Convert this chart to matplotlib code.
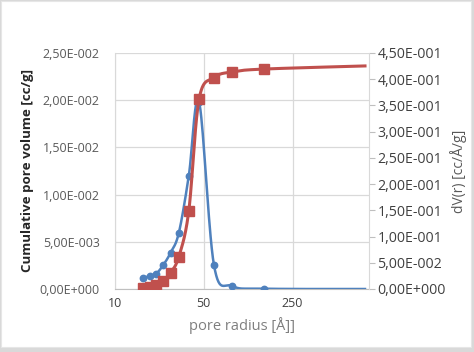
import numpy as np
import matplotlib
matplotlib.use('Agg')
import matplotlib.pyplot as plt
import matplotlib.patches as patches
from matplotlib.ticker import FixedLocator, FuncFormatter, NullLocator

plt.rcParams['font.family'] = ['Open Sans', 'DejaVu Sans']

# pore radius [A] (shared by both series)
radius = [16.7, 18.8, 21.0, 23.9, 27.4, 31.8, 38.1, 45.9, 60.2, 84.0, 149.0, 930.0]
# cumulative pore volume [cc/g] (left axis)
cum_vol = [0.00007, 0.00024, 0.00042, 0.00088, 0.00173, 0.00342, 0.00826,
           0.0201, 0.0224, 0.0230, 0.0233, 0.02363]
# dV(r) [cc/A/g] (right axis)
dv = [0.0204, 0.0254, 0.0286, 0.0452, 0.0692, 0.1068, 0.2155,
      0.357, 0.0452, 0.0057, 0.0006, 0.0]
n_marked = 11  # last point carries no marker

left_ticks = [0, 0.005, 0.010, 0.015, 0.020, 0.025]
right_ticks = [0, 0.05, 0.10, 0.15, 0.20, 0.25, 0.30, 0.35, 0.40, 0.45]
x_ticks = [10, 50, 250]

RED = '#C0504D'
BLUE = '#4F81BD'
GREY = '#595959'


def excel_fmt(v, pos=None):
    s = '%.2E' % v
    mant, exp = s.split('E')
    sign = exp[0]
    e = int(exp[1:])
    return mant.replace('.', ',') + 'E' + sign + '%03d' % e


def smooth(xs, ys, ymax, n=30):
    # excel style smoothed line, done in log-x / normalised-y space
    u = np.log(np.array(xs, float))
    v = np.array(ys, float) / ymax
    P = np.column_stack([u, v])
    out = []
    for i in range(len(P) - 1):
        p0 = P[i - 1] if i > 0 else P[i]
        p1 = P[i]
        p2 = P[i + 1]
        p3 = P[i + 2] if i + 2 < len(P) else P[i + 1]
        c1 = p1 + (p2 - p0) / 6.0
        c2 = p2 - (p3 - p1) / 6.0
        t = np.linspace(0, 1, n)[:, None]
        seg = ((1 - t) ** 3) * p1 + 3 * ((1 - t) ** 2) * t * c1 + 3 * (1 - t) * t ** 2 * c2 + t ** 3 * p2
        out.append(seg if i == 0 else seg[1:])
    out = np.vstack(out)
    return np.exp(out[:, 0]), out[:, 1] * ymax


fig = plt.figure(figsize=(4.74, 3.52), dpi=100)
fig.patch.set_facecolor('#D9D9D9')
fig.patches.append(patches.Rectangle((1 / 474, 5 / 352), 470 / 474, 346 / 352,
                                     transform=fig.transFigure, facecolor='white',
                                     edgecolor='#E6E6E6', lw=0.8, zorder=-10))

ax = fig.add_axes([115 / 474, 1 - 289 / 352, (369 - 115) / 474, (289 - 53) / 352])
ax2 = ax.twinx()
ax.set_facecolor('none')

ax.set_xscale('log', base=5)
ax.set_xlim(10, 1000)
ax.set_ylim(0, 0.025)
ax2.set_ylim(0, 0.45)

ax.xaxis.set_major_locator(FixedLocator(x_ticks))
ax.xaxis.set_minor_locator(NullLocator())
ax.xaxis.set_major_formatter(FuncFormatter(lambda v, p: '%d' % v))
ax.set_yticks(left_ticks)
ax.yaxis.set_major_formatter(FuncFormatter(excel_fmt))
ax2.set_yticks(right_ticks)
ax2.yaxis.set_major_formatter(FuncFormatter(excel_fmt))

ax.grid(True, color='#D9D9D9', lw=0.9)
ax.set_axisbelow(True)

for a in (ax, ax2):
    for s in a.spines.values():
        s.set_visible(False)
ax.spines['bottom'].set_visible(True)
ax.spines['bottom'].set_color('#BFBFBF')
ax.spines['left'].set_visible(True)
ax.spines['left'].set_color('#D9D9D9')
ax2.spines['right'].set_visible(True)
ax2.spines['right'].set_color('#D9D9D9')

ax.tick_params(axis='both', length=0, labelsize=9, labelcolor=GREY, pad=11)
ax.tick_params(axis='x', pad=6, labelcolor='#404040')
ax2.tick_params(axis='y', length=4, color='#BFBFBF', labelsize=10.2,
                labelcolor='#404040', pad=2)

# blue: dV(r) on right axis
bx, by = smooth(radius, dv, 0.45)
ax2.plot(bx, by, color=BLUE, lw=1.8, zorder=2)
ax2.plot(radius[:n_marked], dv[:n_marked], 'o', color=BLUE, ms=4.6, zorder=3)

# red: cumulative on left axis, drawn on top
rx, ry = smooth(radius, cum_vol, 0.025)
ax2.plot(rx, np.array(ry) / 0.025 * 0.45, color=RED, lw=2.2, zorder=4)
ax2.plot(radius[:n_marked], np.array(cum_vol[:n_marked]) / 0.025 * 0.45, 's',
         color=RED, ms=6.6, zorder=5)

ax.set_ylabel('Cumulative pore volume [cc/g]', fontsize=9.6, fontweight='bold',
              color='#262626', labelpad=4)
ax2.set_ylabel('dV(r) [cc/Å/g]', fontsize=10, color=GREY, labelpad=3)
ax.set_xlabel('pore radius [Å]]', fontsize=10.5, color='#7F7F7F', labelpad=5)

fig.savefig('out.png', dpi=100, facecolor=fig.get_facecolor())
